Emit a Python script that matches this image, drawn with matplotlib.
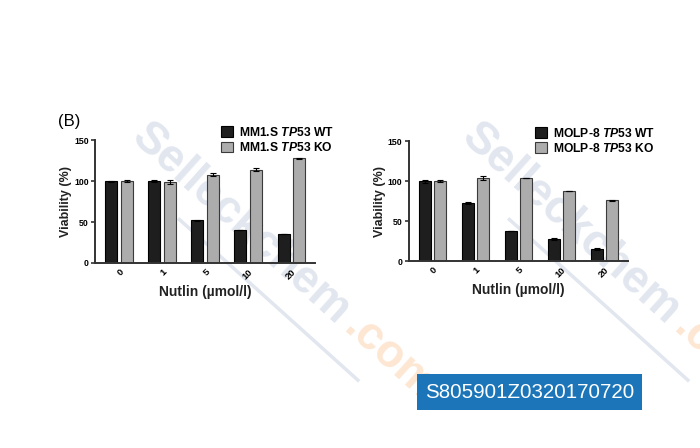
import numpy as np
import matplotlib.pyplot as plt
from matplotlib.patches import Patch, Rectangle
from matplotlib.lines import Line2D

plt.rcParams['font.family'] = ['Liberation Sans', 'DejaVu Sans']
plt.rcParams['font.weight'] = 'bold'
plt.rcParams['axes.labelweight'] = 'bold'
plt.rcParams['mathtext.fontset'] = 'custom'
plt.rcParams['mathtext.it'] = 'Liberation Sans:bold:italic'
plt.rcParams['mathtext.rm'] = 'Liberation Sans:bold'

# Daten
doses = ['0', '1', '5', '10', '20']

mm1s_wt = [100, 100, 52, 40, 35]
mm1s_wt_err = [0.5, 1, 1, 0, 0]
mm1s_ko = [100, 99, 108, 114, 128]
mm1s_ko_err = [1, 3, 2, 2, 0.7]

molp8_wt = [100, 73, 38, 28, 15]
molp8_wt_err = [2, 1, 0, 1, 1]
molp8_ko = [100, 104, 104, 88, 76]
molp8_ko_err = [1, 2, 0, 0, 1]

fig = plt.figure(figsize=(7, 4.48), dpi=100)
W, H = 700, 448

black = '#1e1e1e'
grey = '#acacac'
axis_col = '#333333'


def panel(rect, wt, wt_err, ko, ko_err, name):
    ax = fig.add_axes(rect)
    ax.set_facecolor('none')
    x = np.arange(len(doses))
    w = 0.28
    ax.bar(x - 0.18, wt, w, color=black, edgecolor='#000000', linewidth=0.8,
           yerr=wt_err, capsize=2, error_kw=dict(elinewidth=0.8, capthick=0.8))
    ax.bar(x + 0.18, ko, w, color=grey, edgecolor='#3a3a3a', linewidth=0.8,
           yerr=ko_err, capsize=2, error_kw=dict(elinewidth=0.8, capthick=0.8))
    ax.set_xlim(-0.55, len(doses) - 0.45)
    ax.set_ylim(0, 150)
    ax.set_yticks([0, 50, 100, 150])
    ax.set_xticks(x)
    ax.set_xticklabels(doses, rotation=45, ha='right', rotation_mode='anchor')
    ax.tick_params(axis='x', length=0, labelsize=6.8, pad=3)
    ax.tick_params(axis='y', length=3, width=1.2, labelsize=6.3, pad=1.5,
                   color=axis_col)
    for s in ['top', 'right']:
        ax.spines[s].set_visible(False)
    for s in ['left', 'bottom']:
        ax.spines[s].set_linewidth(1.4)
        ax.spines[s].set_color(axis_col)
    ax.set_ylabel('Viability (%)', fontsize=9, labelpad=1.5, color='#222222')
    ax.set_xlabel('Nutlin (µmol/l)', fontsize=10, labelpad=3, color='#222222')
    handles = [Patch(facecolor=black, edgecolor='#000000', linewidth=0.8),
               Patch(facecolor=grey, edgecolor='#3a3a3a', linewidth=0.8)]
    labels = [name + r' $\mathit{TP53}$ WT', name + r' $\mathit{TP53}$ KO']
    return ax, handles, labels


leg_kw = dict(loc='upper left', frameon=False, fontsize=8.7, handlelength=1.0,
              handleheight=1.0, handletextpad=0.5, labelspacing=0.2, borderpad=0)

ax1, h1, l1 = panel([0.136, 0.413, 0.314, 0.274], mm1s_wt, mm1s_wt_err,
                    mm1s_ko, mm1s_ko_err, 'MM1.S')
fig.legend(h1, l1, bbox_to_anchor=(0.307, 0.733), **leg_kw)

ax2, h2, l2 = panel([0.584, 0.417, 0.313, 0.268], molp8_wt, molp8_wt_err,
                    molp8_ko, molp8_ko_err, 'MOLP-8')
fig.legend(h2, l2, bbox_to_anchor=(0.755, 0.731), **leg_kw)

fig.text(0.083, 0.728, '(B)', fontsize=12, weight='normal', va='center')

# Wasserzeichen hinter den Achsen
ang = 42
d = np.array([np.cos(np.radians(ang)), np.sin(np.radians(ang))])
nrm = np.array([-d[1], d[0]])
for x0, y0 in [(130, 140), (460, 140)]:
    p = np.array([x0, y0], dtype=float)
    fig.text(p[0] / W, 1 - p[1] / H, 'Selleckchem', fontsize=33, weight='bold',
             color='#e1e6ef', rotation=-ang, rotation_mode='anchor',
             ha='left', va='baseline', zorder=-2)
    q = p + 285 * d
    fig.text(q[0] / W, 1 - q[1] / H, '.com', fontsize=33, weight='bold',
             color='#fde6d2', rotation=-ang, rotation_mode='anchor',
             ha='left', va='baseline', zorder=-2)
    a = p + 26 * nrm + 90 * d
    b = p + 26 * nrm + 330 * d
    fig.add_artist(Line2D([a[0] / W, b[0] / W], [1 - a[1] / H, 1 - b[1] / H],
                          transform=fig.transFigure, color='#e1e6ef',
                          linewidth=2.5, zorder=-2))

# Stempel unten rechts
fig.add_artist(Rectangle((417 / W, 1 - 410 / H), 225 / W, 36 / H,
                         transform=fig.transFigure, facecolor='#1b75b8',
                         edgecolor='none', zorder=6))
fig.text(529.5 / W, 1 - 392 / H, 'S805901Z0320170720', fontsize=14.8,
         weight='normal', color='white', va='center', ha='center', zorder=7)

fig.savefig('out.png', dpi=100)
